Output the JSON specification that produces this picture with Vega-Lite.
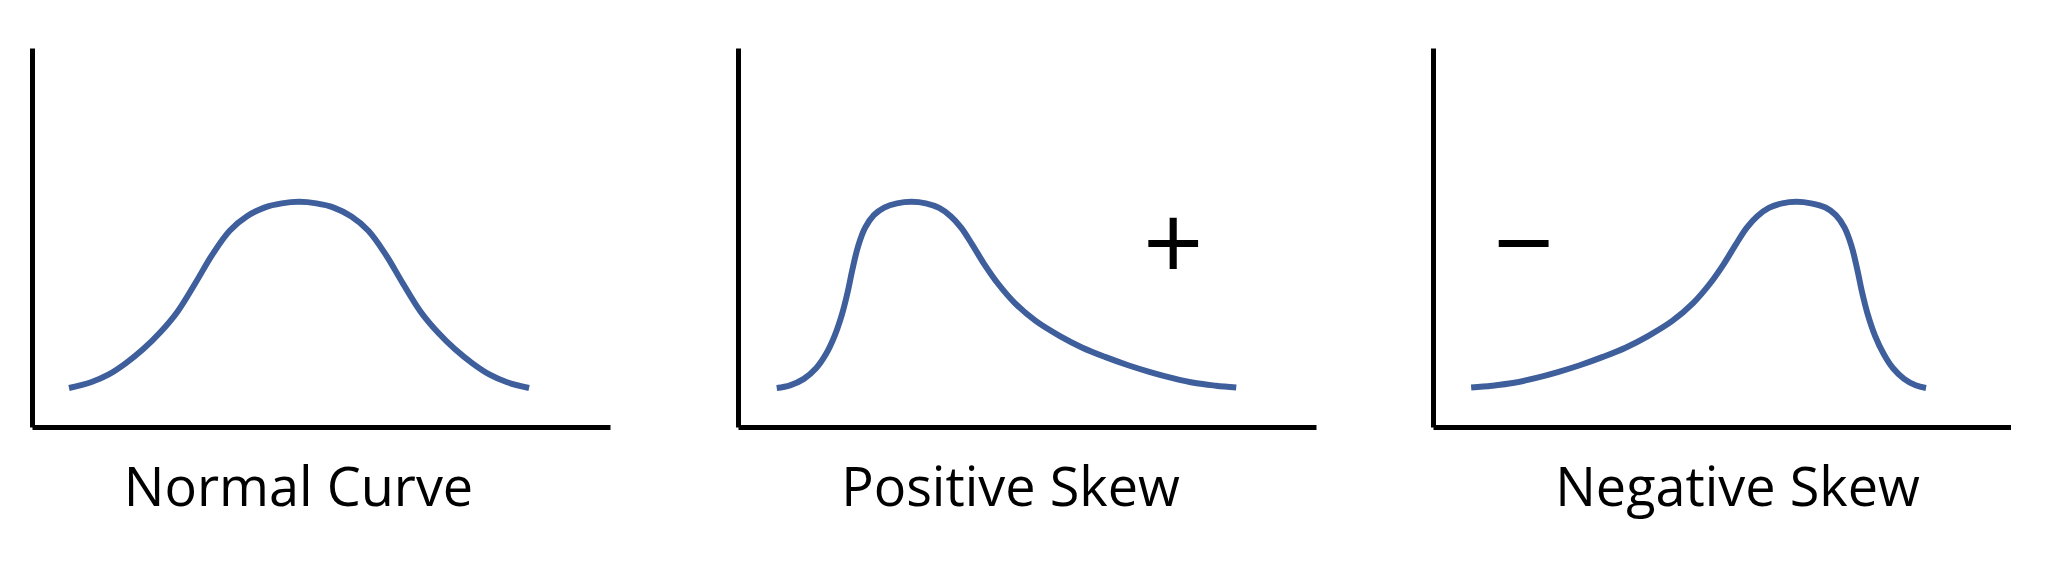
{
  "$schema": "https://vega.github.io/schema/vega-lite/v6.json",
  "background": "white",
  "padding": {"left": 32, "top": 48, "right": 0, "bottom": 60},
  "spacing": 128,
  "config": {
    "view": {"stroke": null},
    "axis": {
      "domainColor": "black",
      "domainWidth": 5,
      "ticks": false,
      "labels": false,
      "grid": false,
      "titleFont": "Open Sans",
      "titleFontSize": 54,
      "titleFontWeight": 500,
      "titleColor": "black"
    }
  },
  "datasets": {
    "normal": [
      {"x": 6.4, "y": 10.3}, {"x": 10.2, "y": 11.8}, {"x": 13.2, "y": 13.8}, {"x": 16.2, "y": 16.8},
      {"x": 19.2, "y": 20.5}, {"x": 22.2, "y": 25.0}, {"x": 25.2, "y": 30.5}, {"x": 28.2, "y": 37.8},
      {"x": 31.2, "y": 45.5}, {"x": 34.2, "y": 51.8}, {"x": 37.2, "y": 55.6}, {"x": 40.2, "y": 57.9},
      {"x": 43.2, "y": 59.0}, {"x": 46.2, "y": 59.4}, {"x": 49.2, "y": 59.0}, {"x": 52.2, "y": 57.9},
      {"x": 55.2, "y": 55.6}, {"x": 58.2, "y": 51.8}, {"x": 61.2, "y": 45.5}, {"x": 64.2, "y": 37.8},
      {"x": 67.2, "y": 30.5}, {"x": 70.2, "y": 25.0}, {"x": 73.2, "y": 20.5}, {"x": 76.2, "y": 16.8},
      {"x": 79.2, "y": 13.8}, {"x": 82.2, "y": 11.8}, {"x": 86.0, "y": 10.3}
    ],
    "positive": [
      {"x": 6.7, "y": 10.3}, {"x": 9.0, "y": 11.0}, {"x": 11.4, "y": 12.7}, {"x": 13.5, "y": 15.5},
      {"x": 15.2, "y": 19.2}, {"x": 16.7, "y": 24.0}, {"x": 18.0, "y": 29.8}, {"x": 19.0, "y": 35.8},
      {"x": 19.8, "y": 41.6}, {"x": 20.8, "y": 47.8}, {"x": 22.0, "y": 52.6}, {"x": 23.5, "y": 55.9},
      {"x": 25.3, "y": 57.9}, {"x": 27.5, "y": 59.0}, {"x": 30.0, "y": 59.4}, {"x": 32.5, "y": 59.0},
      {"x": 34.8, "y": 57.8}, {"x": 36.8, "y": 55.6}, {"x": 38.6, "y": 52.6}, {"x": 40.5, "y": 48.2},
      {"x": 42.6, "y": 43.0}, {"x": 45.0, "y": 37.8}, {"x": 47.9, "y": 32.7}, {"x": 51.5, "y": 28.0},
      {"x": 55.7, "y": 24.0}, {"x": 59.5, "y": 21.0}, {"x": 63.5, "y": 18.5}, {"x": 67.5, "y": 16.3},
      {"x": 71.3, "y": 14.5}, {"x": 75.2, "y": 12.9}, {"x": 79.1, "y": 11.6}, {"x": 82.7, "y": 10.9},
      {"x": 86.2, "y": 10.4}
    ],
    "negative": [
      {"x": 6.6, "y": 10.4}, {"x": 10.2, "y": 10.9}, {"x": 13.8, "y": 11.6}, {"x": 17.7, "y": 12.9},
      {"x": 21.6, "y": 14.5}, {"x": 25.4, "y": 16.3}, {"x": 29.4, "y": 18.5}, {"x": 33.4, "y": 21.0},
      {"x": 37.2, "y": 24.0}, {"x": 41.4, "y": 28.0}, {"x": 45.0, "y": 32.7}, {"x": 47.9, "y": 37.8},
      {"x": 50.3, "y": 43.0}, {"x": 52.4, "y": 48.2}, {"x": 54.3, "y": 52.6}, {"x": 56.1, "y": 55.6},
      {"x": 58.1, "y": 57.8}, {"x": 60.4, "y": 59.0}, {"x": 62.9, "y": 59.4}, {"x": 65.4, "y": 59.0},
      {"x": 67.9, "y": 57.9}, {"x": 69.7, "y": 55.9}, {"x": 71.2, "y": 52.6}, {"x": 72.4, "y": 47.8},
      {"x": 73.4, "y": 41.6}, {"x": 74.2, "y": 35.8}, {"x": 75.2, "y": 29.8}, {"x": 76.5, "y": 24.0},
      {"x": 78.0, "y": 19.2}, {"x": 79.6, "y": 15.5}, {"x": 81.5, "y": 12.7}, {"x": 83.5, "y": 11.0},
      {"x": 85.3, "y": 10.3}
    ],
    "plus": [{"x": 75.3, "y": 48.8, "s": "+"}],
    "minus": [{"x": 15.7, "y": 48.8, "s": "−"}]
  },
  "hconcat": [
    {
      "width": 578,
      "height": 379,
      "data": {"name": "normal"},
      "mark": {"type": "line", "interpolate": "catmull-rom", "color": "#3e5f9c", "strokeWidth": 6, "strokeCap": "butt"},
      "encoding": {
        "x": {"field": "x", "type": "quantitative", "scale": {"domain": [0, 100]},
          "axis": {"title": "Normal Curve", "titleX": 266, "titleY": 78, "titleBaseline": "alphabetic", "titleAlign": "center"}},
        "y": {"field": "y", "type": "quantitative", "scale": {"domain": [0, 100]}, "axis": {"title": null}}
      }
    },
    {
      "spacing": 117,
      "hconcat": [
        {
          "width": 578,
          "height": 379,
          "layer": [
            {
              "data": {"name": "positive"},
              "mark": {"type": "line", "interpolate": "catmull-rom", "color": "#3e5f9c", "strokeWidth": 6, "strokeCap": "butt"},
              "encoding": {
                "x": {"field": "x", "type": "quantitative", "scale": {"domain": [0, 100]},
                  "axis": {"title": "Positive Skew", "titleX": 272, "titleY": 78, "titleBaseline": "alphabetic", "titleAlign": "center"}},
                "y": {"field": "y", "type": "quantitative", "scale": {"domain": [0, 100]}, "axis": {"title": null}}
              }
            },
            {
              "data": {"name": "plus"},
              "mark": {"type": "text", "font": "Open Sans", "fontSize": 106, "color": "black", "baseline": "alphabetic", "align": "center", "dy": 39},
              "encoding": {
                "x": {"field": "x", "type": "quantitative"},
                "y": {"field": "y", "type": "quantitative"},
                "text": {"field": "s"}
              }
            }
          ]
        },
        {
          "width": 578,
          "height": 379,
          "layer": [
            {
              "data": {"name": "negative"},
              "mark": {"type": "line", "interpolate": "catmull-rom", "color": "#3e5f9c", "strokeWidth": 6, "strokeCap": "butt"},
              "encoding": {
                "x": {"field": "x", "type": "quantitative", "scale": {"domain": [0, 100]},
                  "axis": {"title": "Negative Skew", "titleX": 304, "titleY": 78, "titleBaseline": "alphabetic", "titleAlign": "center"}},
                "y": {"field": "y", "type": "quantitative", "scale": {"domain": [0, 100]}, "axis": {"title": null}}
              }
            },
            {
              "data": {"name": "minus"},
              "mark": {"type": "text", "font": "Open Sans", "fontSize": 106, "color": "black", "baseline": "alphabetic", "align": "center", "dy": 39},
              "encoding": {
                "x": {"field": "x", "type": "quantitative"},
                "y": {"field": "y", "type": "quantitative"},
                "text": {"field": "s"}
              }
            }
          ]
        }
      ]
    }
  ]
}
